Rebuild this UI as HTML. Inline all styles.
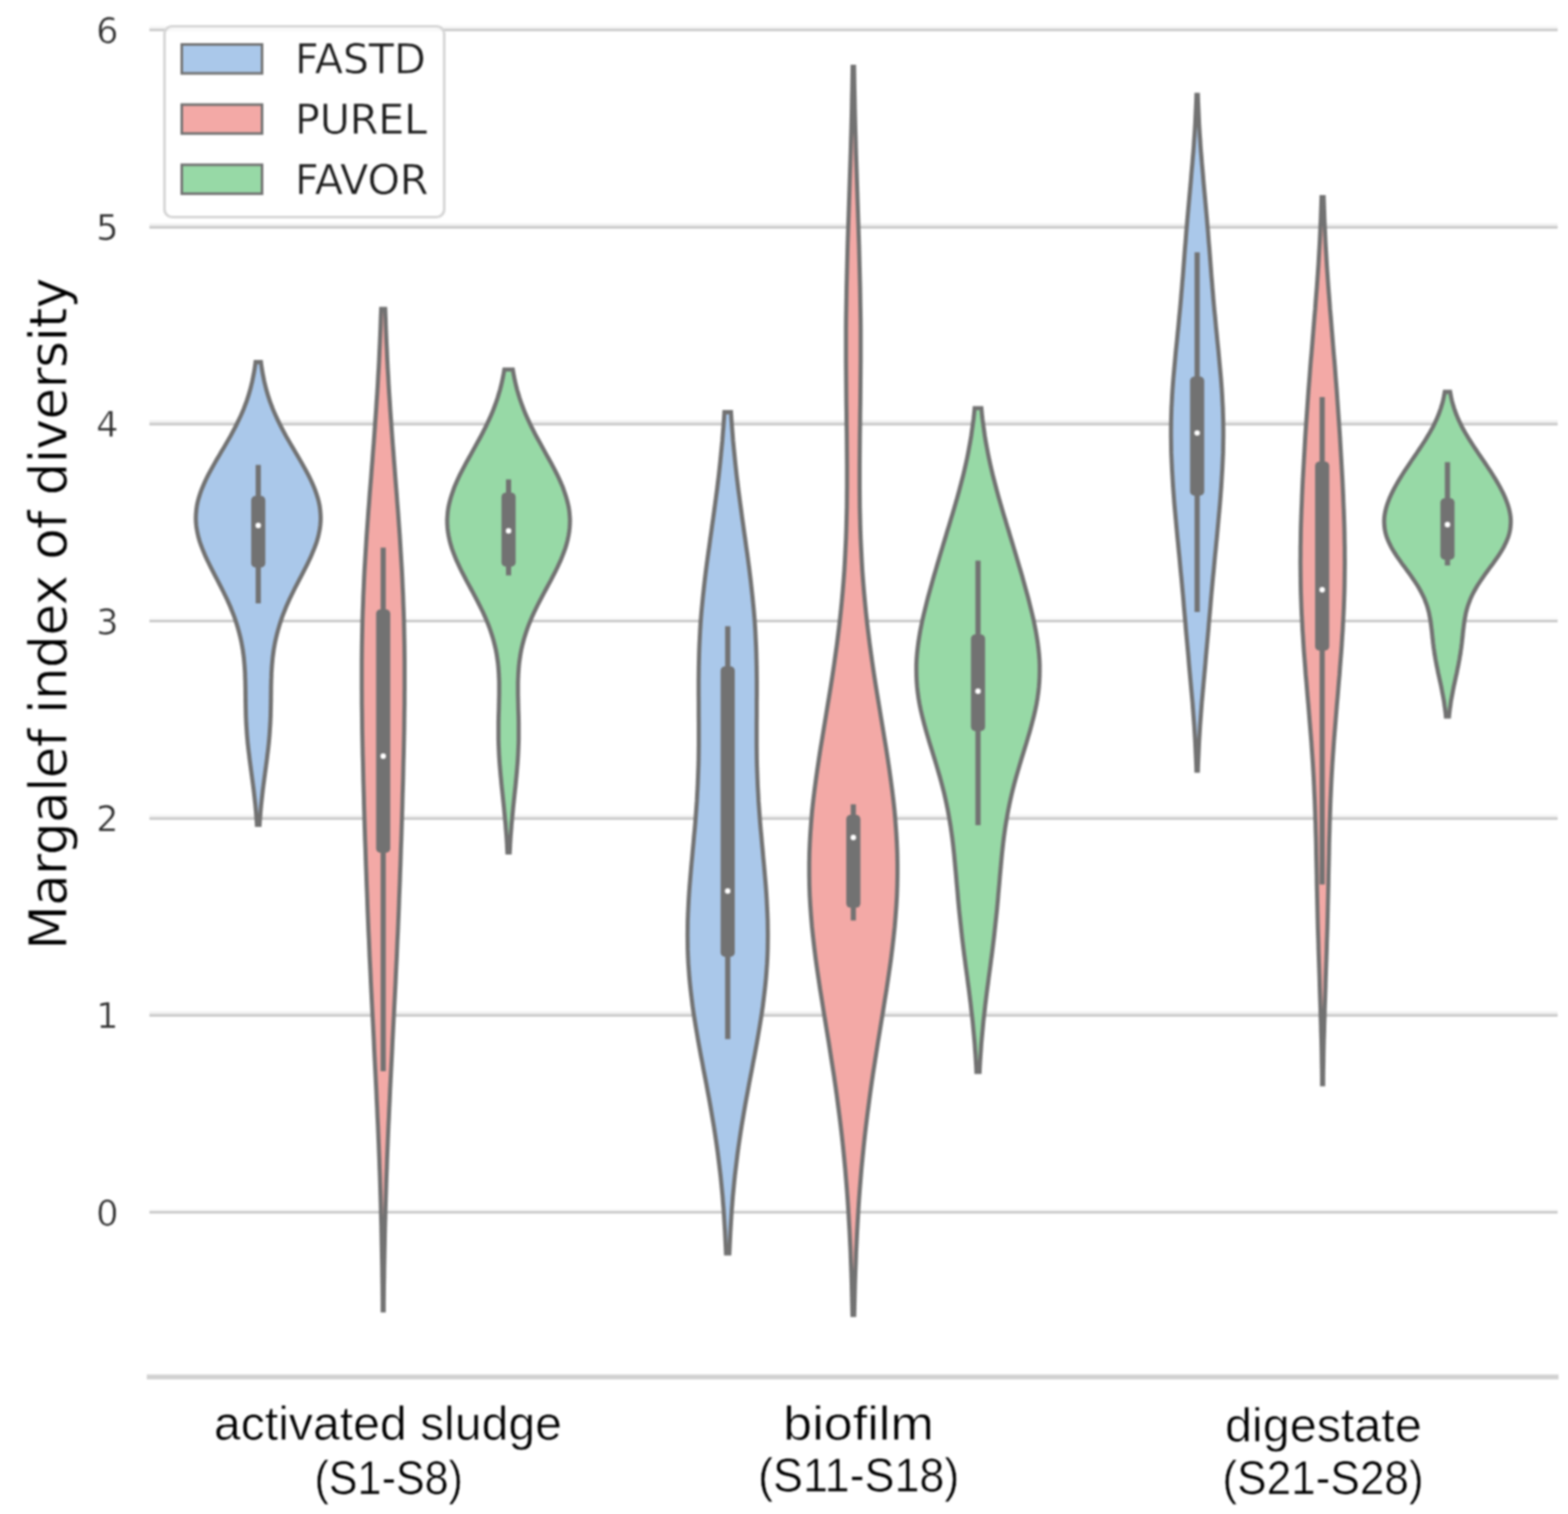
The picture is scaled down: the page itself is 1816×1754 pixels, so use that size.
<!DOCTYPE html>
<html lang="en"><head><meta charset="utf-8"><title>Margalef index of diversity</title>
<style>html,body{margin:0;padding:0;background:#fff}body{width:1816px;height:1754px;overflow:hidden}svg{display:block;filter:blur(0.9px)}text{stroke:#fff;stroke-width:0.7px;paint-order:fill stroke}.tk{font-family:"DejaVu Sans","Liberation Sans",sans-serif;font-size:41px;fill:#2c2c2c}.lg{font-family:"DejaVu Sans","Liberation Sans",sans-serif;font-size:48px;letter-spacing:-0.3px;fill:#1c1c1c}.yl{font-family:"DejaVu Sans","Liberation Sans",sans-serif;font-size:60px;letter-spacing:-0.8px;fill:#000}.xl{font-family:"Liberation Sans","DejaVu Sans",sans-serif;font-size:56px;fill:#000}</style></head><body>
<svg width="1816" height="1754" viewBox="0 0 1816 1754">
<rect width="1816" height="1754" fill="#fff"/>
<g>
<rect x="173" y="1399.8" width="1631" height="3.3" fill="#000" fill-opacity="0.015"/>
<rect x="173" y="1402.9" width="1631" height="3" fill="#cacaca"/>
<rect x="173" y="1171.8" width="1631" height="3.3" fill="#000" fill-opacity="0.060"/>
<rect x="173" y="1174.9" width="1631" height="3" fill="#cacaca"/>
<rect x="173" y="943.7" width="1631" height="3.3" fill="#000" fill-opacity="0.042"/>
<rect x="173" y="946.8" width="1631" height="3" fill="#cacaca"/>
<rect x="173" y="714.9" width="1631" height="3.3" fill="#000" fill-opacity="0.015"/>
<rect x="173" y="718.0" width="1631" height="3" fill="#cacaca"/>
<rect x="173" y="486.8" width="1631" height="3.3" fill="#000" fill-opacity="0.060"/>
<rect x="173" y="489.9" width="1631" height="3" fill="#cacaca"/>
<rect x="173" y="258.8" width="1631" height="3.3" fill="#000" fill-opacity="0.060"/>
<rect x="173" y="261.9" width="1631" height="3" fill="#cacaca"/>
<rect x="173" y="30.1" width="1631" height="3.3" fill="#000" fill-opacity="0.036"/>
<rect x="173" y="33.2" width="1631" height="3" fill="#cacaca"/>
</g>
<rect x="170" y="1592.4" width="1635" height="5.7" fill="#d2d2d2"/>
<g class="tk" text-anchor="end">
<text x="137.3" y="1419.6">0</text>
<text x="137.3" y="1191.2">1</text>
<text x="137.3" y="962.9">2</text>
<text x="137.3" y="734.5">3</text>
<text x="137.3" y="506.2">4</text>
<text x="137.3" y="277.8">5</text>
<text x="137.3" y="49.5">6</text>
</g>
<g stroke="#727272" stroke-width="4.8" stroke-linejoin="miter">
<path d="M296.0 419.5 L295.4 424.0 L294.7 428.5 L293.9 433.0 L293.0 437.5 L292.1 442.0 L291.0 446.5 L289.9 451.0 L288.6 455.5 L287.2 460.0 L285.7 464.6 L284.0 469.1 L282.3 473.6 L280.4 478.1 L278.4 482.6 L276.3 487.1 L274.1 491.6 L271.8 496.1 L269.4 500.6 L267.0 505.1 L264.4 509.6 L261.8 514.1 L259.2 518.6 L256.5 523.1 L253.9 527.6 L251.2 532.1 L248.6 536.6 L246.1 541.1 L243.6 545.6 L241.2 550.1 L238.9 554.7 L236.8 559.2 L234.9 563.7 L233.1 568.2 L231.5 572.7 L230.1 577.2 L228.9 581.7 L228.0 586.2 L227.4 590.7 L227.0 595.2 L226.8 599.7 L226.9 604.2 L227.3 608.7 L227.9 613.2 L228.8 617.7 L229.8 622.2 L231.1 626.7 L232.6 631.2 L234.3 635.7 L236.2 640.2 L238.1 644.8 L240.2 649.3 L242.4 653.8 L244.7 658.3 L247.0 662.8 L249.3 667.3 L251.7 671.8 L254.0 676.3 L256.3 680.8 L258.5 685.3 L260.7 689.8 L262.9 694.3 L264.9 698.8 L266.9 703.3 L268.7 707.8 L270.5 712.3 L272.1 716.8 L273.6 721.3 L275.0 725.8 L276.3 730.3 L277.5 734.9 L278.6 739.4 L279.6 743.9 L280.4 748.4 L281.2 752.9 L281.8 757.4 L282.4 761.9 L282.8 766.4 L283.2 770.9 L283.5 775.4 L283.8 779.9 L283.9 784.4 L284.1 788.9 L284.2 793.4 L284.3 797.9 L284.3 802.4 L284.4 806.9 L284.4 811.4 L284.5 815.9 L284.6 820.4 L284.7 825.0 L284.8 829.5 L285.0 834.0 L285.2 838.5 L285.5 843.0 L285.8 847.5 L286.1 852.0 L286.5 856.5 L286.9 861.0 L287.4 865.5 L287.9 870.0 L288.5 874.5 L289.0 879.0 L289.6 883.5 L290.2 888.0 L290.8 892.5 L291.4 897.0 L292.0 901.5 L292.6 906.0 L293.2 910.5 L293.8 915.1 L294.3 919.6 L294.8 924.1 L295.3 928.6 L295.8 933.1 L296.2 937.6 L296.6 942.1 L296.9 946.6 L297.3 951.1 L297.6 955.6 L300.6 955.6 L300.9 951.1 L301.3 946.6 L301.6 942.1 L302.0 937.6 L302.4 933.1 L302.9 928.6 L303.4 924.1 L303.9 919.6 L304.4 915.1 L305.0 910.5 L305.6 906.0 L306.2 901.5 L306.8 897.0 L307.4 892.5 L308.0 888.0 L308.6 883.5 L309.2 879.0 L309.7 874.5 L310.3 870.0 L310.8 865.5 L311.3 861.0 L311.7 856.5 L312.1 852.0 L312.4 847.5 L312.7 843.0 L313.0 838.5 L313.2 834.0 L313.4 829.5 L313.5 825.0 L313.6 820.4 L313.7 815.9 L313.8 811.4 L313.8 806.9 L313.9 802.4 L313.9 797.9 L314.0 793.4 L314.1 788.9 L314.3 784.4 L314.4 779.9 L314.7 775.4 L315.0 770.9 L315.4 766.4 L315.8 761.9 L316.4 757.4 L317.0 752.9 L317.8 748.4 L318.6 743.9 L319.6 739.4 L320.7 734.9 L321.9 730.3 L323.2 725.8 L324.6 721.3 L326.1 716.8 L327.7 712.3 L329.5 707.8 L331.3 703.3 L333.3 698.8 L335.3 694.3 L337.5 689.8 L339.7 685.3 L341.9 680.8 L344.2 676.3 L346.5 671.8 L348.9 667.3 L351.2 662.8 L353.5 658.3 L355.8 653.8 L358.0 649.3 L360.1 644.8 L362.0 640.2 L363.9 635.7 L365.6 631.2 L367.1 626.7 L368.4 622.2 L369.4 617.7 L370.3 613.2 L370.9 608.7 L371.3 604.2 L371.4 599.7 L371.2 595.2 L370.8 590.7 L370.2 586.2 L369.3 581.7 L368.1 577.2 L366.7 572.7 L365.1 568.2 L363.3 563.7 L361.4 559.2 L359.3 554.7 L357.0 550.1 L354.6 545.6 L352.1 541.1 L349.6 536.6 L347.0 532.1 L344.3 527.6 L341.7 523.1 L339.0 518.6 L336.4 514.1 L333.8 509.6 L331.2 505.1 L328.8 500.6 L326.4 496.1 L324.1 491.6 L321.9 487.1 L319.8 482.6 L317.8 478.1 L315.9 473.6 L314.2 469.1 L312.5 464.6 L311.0 460.0 L309.6 455.5 L308.3 451.0 L307.2 446.5 L306.1 442.0 L305.2 437.5 L304.3 433.0 L303.5 428.5 L302.8 424.0 L302.2 419.5 Z" fill="#aac8ea"/>
<path d="M441.5 357.8 L441.1 367.6 L440.8 377.3 L440.4 387.1 L440.0 396.8 L439.5 406.6 L439.1 416.3 L438.6 426.1 L438.0 435.8 L437.5 445.6 L436.9 455.3 L436.2 465.1 L435.6 474.8 L434.9 484.6 L434.2 494.3 L433.5 504.1 L432.8 513.8 L432.0 523.6 L431.3 533.3 L430.5 543.1 L429.8 552.8 L429.0 562.6 L428.2 572.3 L427.5 582.1 L426.7 591.8 L426.0 601.6 L425.3 611.3 L424.6 621.1 L424.0 630.8 L423.4 640.6 L422.8 650.3 L422.2 660.1 L421.7 669.8 L421.3 679.6 L420.8 689.3 L420.5 699.1 L420.1 708.8 L419.8 718.6 L419.6 728.3 L419.4 738.1 L419.2 747.8 L419.1 757.6 L419.0 767.3 L419.0 777.1 L419.0 786.8 L419.0 796.6 L419.1 806.3 L419.1 816.1 L419.3 825.8 L419.4 835.6 L419.5 845.3 L419.7 855.1 L419.9 864.8 L420.1 874.6 L420.4 884.3 L420.6 894.1 L420.8 903.8 L421.1 913.6 L421.4 923.3 L421.6 933.1 L421.9 942.8 L422.2 952.6 L422.5 962.3 L422.8 972.1 L423.2 981.8 L423.5 991.6 L423.8 1001.3 L424.2 1011.1 L424.5 1020.8 L424.9 1030.6 L425.3 1040.3 L425.6 1050.1 L426.0 1059.8 L426.4 1069.6 L426.8 1079.3 L427.3 1089.1 L427.7 1098.8 L428.1 1108.6 L428.6 1118.3 L429.1 1128.1 L429.5 1137.8 L430.0 1147.6 L430.5 1157.3 L431.0 1167.1 L431.5 1176.8 L432.0 1186.6 L432.5 1196.3 L433.0 1206.1 L433.4 1215.8 L433.9 1225.6 L434.4 1235.3 L434.9 1245.1 L435.4 1254.8 L435.9 1264.6 L436.3 1274.3 L436.8 1284.1 L437.2 1293.8 L437.7 1303.6 L438.1 1313.3 L438.5 1323.1 L438.9 1332.8 L439.3 1342.6 L439.6 1352.3 L440.0 1362.1 L440.3 1371.8 L440.6 1381.6 L440.9 1391.3 L441.2 1401.1 L441.4 1410.8 L441.7 1420.6 L441.9 1430.3 L442.1 1440.1 L442.3 1449.8 L442.5 1459.6 L442.7 1469.3 L442.8 1479.1 L443.0 1488.8 L443.1 1498.6 L443.2 1508.3 L443.2 1518.1 L444.4 1518.1 L444.4 1508.3 L444.5 1498.6 L444.6 1488.8 L444.8 1479.1 L444.9 1469.3 L445.1 1459.6 L445.3 1449.8 L445.5 1440.1 L445.7 1430.3 L445.9 1420.6 L446.2 1410.8 L446.4 1401.1 L446.7 1391.3 L447.0 1381.6 L447.3 1371.8 L447.6 1362.1 L448.0 1352.3 L448.3 1342.6 L448.7 1332.8 L449.1 1323.1 L449.5 1313.3 L449.9 1303.6 L450.4 1293.8 L450.8 1284.1 L451.3 1274.3 L451.7 1264.6 L452.2 1254.8 L452.7 1245.1 L453.2 1235.3 L453.7 1225.6 L454.2 1215.8 L454.6 1206.1 L455.1 1196.3 L455.6 1186.6 L456.1 1176.8 L456.6 1167.1 L457.1 1157.3 L457.6 1147.6 L458.1 1137.8 L458.5 1128.1 L459.0 1118.3 L459.5 1108.6 L459.9 1098.8 L460.3 1089.1 L460.8 1079.3 L461.2 1069.6 L461.6 1059.8 L462.0 1050.1 L462.3 1040.3 L462.7 1030.6 L463.1 1020.8 L463.4 1011.1 L463.8 1001.3 L464.1 991.6 L464.4 981.8 L464.8 972.1 L465.1 962.3 L465.4 952.6 L465.7 942.8 L466.0 933.1 L466.2 923.3 L466.5 913.6 L466.8 903.8 L467.0 894.1 L467.2 884.3 L467.5 874.6 L467.7 864.8 L467.9 855.1 L468.1 845.3 L468.2 835.6 L468.3 825.8 L468.5 816.1 L468.5 806.3 L468.6 796.6 L468.6 786.8 L468.6 777.1 L468.6 767.3 L468.5 757.6 L468.4 747.8 L468.2 738.1 L468.0 728.3 L467.8 718.6 L467.5 708.8 L467.1 699.1 L466.8 689.3 L466.3 679.6 L465.9 669.8 L465.4 660.1 L464.8 650.3 L464.2 640.6 L463.6 630.8 L463.0 621.1 L462.3 611.3 L461.6 601.6 L460.9 591.8 L460.1 582.1 L459.4 572.3 L458.6 562.6 L457.8 552.8 L457.1 543.1 L456.3 533.3 L455.6 523.6 L454.8 513.8 L454.1 504.1 L453.4 494.3 L452.7 484.6 L452.0 474.8 L451.4 465.1 L450.7 455.3 L450.1 445.6 L449.6 435.8 L449.0 426.1 L448.5 416.3 L448.1 406.6 L447.6 396.8 L447.2 387.1 L446.8 377.3 L446.5 367.6 L446.1 357.8 Z" fill="#f3a9a6"/>
<path d="M584.1 428.1 L583.3 432.8 L582.4 437.5 L581.4 442.2 L580.3 446.9 L579.1 451.6 L577.7 456.3 L576.3 461.0 L574.7 465.7 L573.0 470.4 L571.2 475.1 L569.3 479.8 L567.2 484.5 L565.0 489.2 L562.8 493.9 L560.4 498.6 L558.0 503.3 L555.5 508.0 L552.9 512.7 L550.3 517.4 L547.7 522.1 L545.1 526.8 L542.5 531.5 L539.9 536.2 L537.4 540.9 L534.9 545.6 L532.5 550.3 L530.3 555.0 L528.2 559.7 L526.2 564.4 L524.5 569.2 L522.9 573.9 L521.5 578.6 L520.3 583.3 L519.3 588.0 L518.6 592.7 L518.2 597.4 L517.9 602.1 L518.0 606.8 L518.3 611.5 L518.8 616.2 L519.6 620.9 L520.6 625.6 L521.8 630.3 L523.2 635.0 L524.9 639.7 L526.7 644.4 L528.6 649.1 L530.8 653.8 L533.0 658.5 L535.3 663.2 L537.8 667.9 L540.2 672.6 L542.8 677.3 L545.3 682.0 L547.8 686.7 L550.3 691.4 L552.8 696.1 L555.2 700.8 L557.5 705.5 L559.8 710.2 L561.9 714.9 L563.9 719.6 L565.8 724.3 L567.5 729.0 L569.1 733.7 L570.6 738.4 L571.9 743.1 L573.1 747.8 L574.2 752.5 L575.1 757.2 L575.8 761.9 L576.5 766.6 L577.0 771.3 L577.4 776.0 L577.7 780.7 L577.9 785.4 L578.1 790.1 L578.1 794.8 L578.1 799.5 L578.1 804.2 L578.0 808.9 L577.9 813.6 L577.8 818.3 L577.7 823.0 L577.5 827.7 L577.4 832.4 L577.3 837.1 L577.3 841.8 L577.3 846.5 L577.3 851.3 L577.3 856.0 L577.4 860.7 L577.6 865.4 L577.8 870.1 L578.0 874.8 L578.3 879.5 L578.6 884.2 L579.0 888.9 L579.4 893.6 L579.8 898.3 L580.3 903.0 L580.7 907.7 L581.2 912.4 L581.7 917.1 L582.2 921.8 L582.7 926.5 L583.2 931.2 L583.7 935.9 L584.1 940.6 L584.6 945.3 L585.0 950.0 L585.5 954.7 L585.8 959.4 L586.2 964.1 L586.6 968.8 L586.9 973.5 L587.2 978.2 L587.4 982.9 L587.7 987.6 L590.3 987.6 L590.6 982.9 L590.8 978.2 L591.1 973.5 L591.4 968.8 L591.8 964.1 L592.2 959.4 L592.5 954.7 L593.0 950.0 L593.4 945.3 L593.9 940.6 L594.3 935.9 L594.8 931.2 L595.3 926.5 L595.8 921.8 L596.3 917.1 L596.8 912.4 L597.3 907.7 L597.7 903.0 L598.2 898.3 L598.6 893.6 L599.0 888.9 L599.4 884.2 L599.7 879.5 L600.0 874.8 L600.2 870.1 L600.4 865.4 L600.6 860.7 L600.7 856.0 L600.7 851.3 L600.7 846.5 L600.7 841.8 L600.7 837.1 L600.6 832.4 L600.5 827.7 L600.3 823.0 L600.2 818.3 L600.1 813.6 L600.0 808.9 L599.9 804.2 L599.9 799.5 L599.9 794.8 L599.9 790.1 L600.1 785.4 L600.3 780.7 L600.6 776.0 L601.0 771.3 L601.5 766.6 L602.2 761.9 L602.9 757.2 L603.8 752.5 L604.9 747.8 L606.1 743.1 L607.4 738.4 L608.9 733.7 L610.5 729.0 L612.2 724.3 L614.1 719.6 L616.1 714.9 L618.2 710.2 L620.5 705.5 L622.8 700.8 L625.2 696.1 L627.7 691.4 L630.2 686.7 L632.7 682.0 L635.2 677.3 L637.8 672.6 L640.2 667.9 L642.7 663.2 L645.0 658.5 L647.2 653.8 L649.4 649.1 L651.3 644.4 L653.1 639.7 L654.8 635.0 L656.2 630.3 L657.4 625.6 L658.4 620.9 L659.2 616.2 L659.7 611.5 L660.0 606.8 L660.1 602.1 L659.8 597.4 L659.4 592.7 L658.7 588.0 L657.7 583.3 L656.5 578.6 L655.1 573.9 L653.5 569.2 L651.8 564.4 L649.8 559.7 L647.7 555.0 L645.5 550.3 L643.1 545.6 L640.6 540.9 L638.1 536.2 L635.5 531.5 L632.9 526.8 L630.3 522.1 L627.7 517.4 L625.1 512.7 L622.5 508.0 L620.0 503.3 L617.6 498.6 L615.2 493.9 L613.0 489.2 L610.8 484.5 L608.7 479.8 L606.8 475.1 L605.0 470.4 L603.3 465.7 L601.7 461.0 L600.3 456.3 L598.9 451.6 L597.7 446.9 L596.6 442.2 L595.6 437.5 L594.7 432.8 L593.9 428.1 Z" fill="#97d9a6"/>
<path d="M839.0 477.5 L838.5 485.7 L837.9 493.9 L837.2 502.1 L836.6 510.3 L835.8 518.4 L835.0 526.6 L834.2 534.8 L833.3 543.0 L832.4 551.2 L831.4 559.4 L830.4 567.6 L829.3 575.8 L828.2 584.0 L827.1 592.1 L826.0 600.3 L824.8 608.5 L823.7 616.7 L822.5 624.9 L821.4 633.1 L820.2 641.3 L819.1 649.5 L818.0 657.7 L817.0 665.8 L816.0 674.0 L815.1 682.2 L814.2 690.4 L813.4 698.6 L812.6 706.8 L811.9 715.0 L811.3 723.2 L810.8 731.4 L810.4 739.6 L810.0 747.7 L809.7 755.9 L809.5 764.1 L809.3 772.3 L809.2 780.5 L809.1 788.7 L809.1 796.9 L809.1 805.1 L809.2 813.3 L809.2 821.4 L809.2 829.6 L809.3 837.8 L809.3 846.0 L809.3 854.2 L809.3 862.4 L809.2 870.6 L809.1 878.8 L808.9 887.0 L808.6 895.1 L808.3 903.3 L808.0 911.5 L807.5 919.7 L807.1 927.9 L806.5 936.1 L805.9 944.3 L805.3 952.5 L804.6 960.7 L803.8 968.8 L803.1 977.0 L802.3 985.2 L801.6 993.4 L800.8 1001.6 L800.1 1009.8 L799.4 1018.0 L798.7 1026.2 L798.1 1034.4 L797.6 1042.5 L797.2 1050.7 L796.8 1058.9 L796.5 1067.1 L796.4 1075.3 L796.3 1083.5 L796.4 1091.7 L796.5 1099.9 L796.8 1108.1 L797.2 1116.2 L797.8 1124.4 L798.4 1132.6 L799.2 1140.8 L800.1 1149.0 L801.1 1157.2 L802.1 1165.4 L803.3 1173.6 L804.6 1181.8 L805.9 1189.9 L807.3 1198.1 L808.7 1206.3 L810.2 1214.5 L811.7 1222.7 L813.3 1230.9 L814.8 1239.1 L816.4 1247.3 L818.0 1255.5 L819.5 1263.7 L821.0 1271.8 L822.5 1280.0 L823.9 1288.2 L825.3 1296.4 L826.7 1304.6 L828.0 1312.8 L829.2 1321.0 L830.4 1329.2 L831.5 1337.4 L832.5 1345.5 L833.5 1353.7 L834.5 1361.9 L835.3 1370.1 L836.1 1378.3 L836.9 1386.5 L837.5 1394.7 L838.2 1402.9 L838.7 1411.1 L839.2 1419.2 L839.7 1427.4 L840.1 1435.6 L840.5 1443.8 L840.9 1452.0 L844.7 1452.0 L845.1 1443.8 L845.5 1435.6 L845.9 1427.4 L846.4 1419.2 L846.9 1411.1 L847.4 1402.9 L848.1 1394.7 L848.7 1386.5 L849.5 1378.3 L850.3 1370.1 L851.1 1361.9 L852.1 1353.7 L853.1 1345.5 L854.1 1337.4 L855.2 1329.2 L856.4 1321.0 L857.6 1312.8 L858.9 1304.6 L860.3 1296.4 L861.7 1288.2 L863.1 1280.0 L864.6 1271.8 L866.1 1263.7 L867.6 1255.5 L869.2 1247.3 L870.8 1239.1 L872.3 1230.9 L873.9 1222.7 L875.4 1214.5 L876.9 1206.3 L878.3 1198.1 L879.7 1189.9 L881.0 1181.8 L882.3 1173.6 L883.5 1165.4 L884.5 1157.2 L885.5 1149.0 L886.4 1140.8 L887.2 1132.6 L887.8 1124.4 L888.4 1116.2 L888.8 1108.1 L889.1 1099.9 L889.2 1091.7 L889.3 1083.5 L889.2 1075.3 L889.1 1067.1 L888.8 1058.9 L888.4 1050.7 L888.0 1042.5 L887.5 1034.4 L886.9 1026.2 L886.2 1018.0 L885.5 1009.8 L884.8 1001.6 L884.0 993.4 L883.3 985.2 L882.5 977.0 L881.8 968.8 L881.0 960.7 L880.3 952.5 L879.7 944.3 L879.1 936.1 L878.5 927.9 L878.1 919.7 L877.6 911.5 L877.3 903.3 L877.0 895.1 L876.7 887.0 L876.5 878.8 L876.4 870.6 L876.3 862.4 L876.3 854.2 L876.3 846.0 L876.3 837.8 L876.4 829.6 L876.4 821.4 L876.4 813.3 L876.5 805.1 L876.5 796.9 L876.5 788.7 L876.4 780.5 L876.3 772.3 L876.1 764.1 L875.9 755.9 L875.6 747.7 L875.2 739.6 L874.8 731.4 L874.3 723.2 L873.7 715.0 L873.0 706.8 L872.2 698.6 L871.4 690.4 L870.5 682.2 L869.6 674.0 L868.6 665.8 L867.6 657.7 L866.5 649.5 L865.4 641.3 L864.2 633.1 L863.1 624.9 L861.9 616.7 L860.8 608.5 L859.6 600.3 L858.5 592.1 L857.4 584.0 L856.3 575.8 L855.2 567.6 L854.2 559.4 L853.2 551.2 L852.3 543.0 L851.4 534.8 L850.6 526.6 L849.8 518.4 L849.0 510.3 L848.4 502.1 L847.7 493.9 L847.1 485.7 L846.6 477.5 Z" fill="#aac8ea"/>
<path d="M987.5 77.4 L987.3 89.6 L987.1 101.7 L986.8 113.9 L986.6 126.0 L986.3 138.2 L986.0 150.3 L985.6 162.5 L985.3 174.6 L984.9 186.8 L984.5 198.9 L984.1 211.1 L983.7 223.2 L983.3 235.4 L982.9 247.5 L982.5 259.7 L982.1 271.8 L981.7 284.0 L981.4 296.1 L981.1 308.3 L980.8 320.4 L980.5 332.6 L980.3 344.7 L980.1 356.9 L979.9 369.0 L979.8 381.2 L979.8 393.3 L979.8 405.5 L979.8 417.6 L979.9 429.8 L980.0 441.9 L980.1 454.1 L980.2 466.2 L980.4 478.4 L980.5 490.5 L980.7 502.7 L980.8 514.8 L980.9 527.0 L981.0 539.1 L981.0 551.3 L981.0 563.5 L980.9 575.6 L980.8 587.8 L980.5 599.9 L980.2 612.1 L979.8 624.2 L979.2 636.4 L978.6 648.5 L977.9 660.7 L977.0 672.8 L976.0 685.0 L974.9 697.1 L973.7 709.3 L972.4 721.4 L970.9 733.6 L969.4 745.7 L967.7 757.9 L966.0 770.0 L964.2 782.2 L962.3 794.3 L960.3 806.5 L958.3 818.6 L956.3 830.8 L954.3 842.9 L952.3 855.1 L950.3 867.2 L948.4 879.4 L946.6 891.5 L944.9 903.7 L943.3 915.8 L941.8 928.0 L940.5 940.1 L939.5 952.3 L938.6 964.4 L937.9 976.6 L937.4 988.7 L937.2 1000.9 L937.2 1013.0 L937.4 1025.2 L937.8 1037.3 L938.5 1049.5 L939.4 1061.7 L940.4 1073.8 L941.7 1086.0 L943.1 1098.1 L944.6 1110.3 L946.3 1122.4 L948.1 1134.6 L949.9 1146.7 L951.9 1158.9 L953.8 1171.0 L955.8 1183.2 L957.8 1195.3 L959.8 1207.5 L961.7 1219.6 L963.6 1231.8 L965.5 1243.9 L967.3 1256.1 L969.0 1268.2 L970.6 1280.4 L972.2 1292.5 L973.7 1304.7 L975.1 1316.8 L976.4 1329.0 L977.6 1341.1 L978.8 1353.3 L979.8 1365.4 L980.8 1377.6 L981.7 1389.7 L982.5 1401.9 L983.2 1414.0 L983.9 1426.2 L984.5 1438.3 L985.1 1450.5 L985.5 1462.6 L986.0 1474.8 L986.4 1486.9 L986.7 1499.1 L987.0 1511.2 L987.3 1523.4 L989.3 1523.4 L989.6 1511.2 L989.9 1499.1 L990.2 1486.9 L990.6 1474.8 L991.1 1462.6 L991.5 1450.5 L992.1 1438.3 L992.7 1426.2 L993.4 1414.0 L994.1 1401.9 L994.9 1389.7 L995.8 1377.6 L996.8 1365.4 L997.8 1353.3 L999.0 1341.1 L1000.2 1329.0 L1001.5 1316.8 L1002.9 1304.7 L1004.4 1292.5 L1006.0 1280.4 L1007.6 1268.2 L1009.3 1256.1 L1011.1 1243.9 L1013.0 1231.8 L1014.9 1219.6 L1016.8 1207.5 L1018.8 1195.3 L1020.8 1183.2 L1022.8 1171.0 L1024.7 1158.9 L1026.7 1146.7 L1028.5 1134.6 L1030.3 1122.4 L1032.0 1110.3 L1033.5 1098.1 L1034.9 1086.0 L1036.2 1073.8 L1037.2 1061.7 L1038.1 1049.5 L1038.8 1037.3 L1039.2 1025.2 L1039.4 1013.0 L1039.4 1000.9 L1039.2 988.7 L1038.7 976.6 L1038.0 964.4 L1037.1 952.3 L1036.1 940.1 L1034.8 928.0 L1033.3 915.8 L1031.7 903.7 L1030.0 891.5 L1028.2 879.4 L1026.3 867.2 L1024.3 855.1 L1022.3 842.9 L1020.3 830.8 L1018.3 818.6 L1016.3 806.5 L1014.3 794.3 L1012.4 782.2 L1010.6 770.0 L1008.9 757.9 L1007.2 745.7 L1005.7 733.6 L1004.2 721.4 L1002.9 709.3 L1001.7 697.1 L1000.6 685.0 L999.6 672.8 L998.7 660.7 L998.0 648.5 L997.4 636.4 L996.8 624.2 L996.4 612.1 L996.1 599.9 L995.8 587.8 L995.7 575.6 L995.6 563.5 L995.6 551.3 L995.6 539.1 L995.7 527.0 L995.8 514.8 L995.9 502.7 L996.1 490.5 L996.2 478.4 L996.4 466.2 L996.5 454.1 L996.6 441.9 L996.7 429.8 L996.8 417.6 L996.8 405.5 L996.8 393.3 L996.8 381.2 L996.7 369.0 L996.5 356.9 L996.3 344.7 L996.1 332.6 L995.8 320.4 L995.5 308.3 L995.2 296.1 L994.9 284.0 L994.5 271.8 L994.1 259.7 L993.7 247.5 L993.3 235.4 L992.9 223.2 L992.5 211.1 L992.1 198.9 L991.7 186.8 L991.3 174.6 L991.0 162.5 L990.6 150.3 L990.3 138.2 L990.0 126.0 L989.8 113.9 L989.5 101.7 L989.3 89.6 L989.1 77.4 Z" fill="#f3a9a6"/>
<path d="M1128.8 472.9 L1128.2 479.4 L1127.5 485.8 L1126.6 492.3 L1125.7 498.7 L1124.8 505.2 L1123.7 511.7 L1122.5 518.1 L1121.3 524.6 L1120.0 531.1 L1118.6 537.5 L1117.1 544.0 L1115.6 550.4 L1113.9 556.9 L1112.2 563.4 L1110.5 569.8 L1108.7 576.3 L1106.9 582.7 L1105.0 589.2 L1103.1 595.7 L1101.1 602.1 L1099.2 608.6 L1097.2 615.0 L1095.3 621.5 L1093.3 628.0 L1091.4 634.4 L1089.4 640.9 L1087.5 647.4 L1085.6 653.8 L1083.7 660.3 L1081.8 666.7 L1080.0 673.2 L1078.2 679.7 L1076.4 686.1 L1074.6 692.6 L1073.0 699.0 L1071.4 705.5 L1069.8 712.0 L1068.3 718.4 L1067.0 724.9 L1065.7 731.4 L1064.6 737.8 L1063.6 744.3 L1062.8 750.7 L1062.1 757.2 L1061.6 763.7 L1061.3 770.1 L1061.3 776.6 L1061.4 783.0 L1061.7 789.5 L1062.2 796.0 L1062.9 802.4 L1063.8 808.9 L1064.9 815.4 L1066.2 821.8 L1067.7 828.3 L1069.3 834.7 L1071.0 841.2 L1072.8 847.7 L1074.7 854.1 L1076.6 860.6 L1078.6 867.0 L1080.6 873.5 L1082.6 880.0 L1084.5 886.4 L1086.4 892.9 L1088.3 899.3 L1090.1 905.8 L1091.8 912.3 L1093.4 918.7 L1094.9 925.2 L1096.3 931.7 L1097.6 938.1 L1098.8 944.6 L1099.9 951.0 L1101.0 957.5 L1101.9 964.0 L1102.8 970.4 L1103.6 976.9 L1104.3 983.3 L1105.0 989.8 L1105.6 996.3 L1106.2 1002.7 L1106.8 1009.2 L1107.4 1015.7 L1107.9 1022.1 L1108.5 1028.6 L1109.1 1035.0 L1109.6 1041.5 L1110.2 1048.0 L1110.8 1054.4 L1111.5 1060.9 L1112.2 1067.3 L1112.9 1073.8 L1113.6 1080.3 L1114.3 1086.7 L1115.1 1093.2 L1115.9 1099.7 L1116.7 1106.1 L1117.6 1112.6 L1118.4 1119.0 L1119.3 1125.5 L1120.2 1132.0 L1121.0 1138.4 L1121.9 1144.9 L1122.7 1151.3 L1123.5 1157.8 L1124.3 1164.3 L1125.0 1170.7 L1125.8 1177.2 L1126.5 1183.6 L1127.1 1190.1 L1127.7 1196.6 L1128.3 1203.0 L1128.9 1209.5 L1129.3 1216.0 L1129.8 1222.4 L1130.2 1228.9 L1130.6 1235.3 L1130.9 1241.8 L1134.5 1241.8 L1134.8 1235.3 L1135.2 1228.9 L1135.6 1222.4 L1136.1 1216.0 L1136.5 1209.5 L1137.1 1203.0 L1137.7 1196.6 L1138.3 1190.1 L1138.9 1183.6 L1139.6 1177.2 L1140.4 1170.7 L1141.1 1164.3 L1141.9 1157.8 L1142.7 1151.3 L1143.5 1144.9 L1144.4 1138.4 L1145.2 1132.0 L1146.1 1125.5 L1147.0 1119.0 L1147.8 1112.6 L1148.7 1106.1 L1149.5 1099.7 L1150.3 1093.2 L1151.1 1086.7 L1151.8 1080.3 L1152.5 1073.8 L1153.2 1067.3 L1153.9 1060.9 L1154.6 1054.4 L1155.2 1048.0 L1155.8 1041.5 L1156.3 1035.0 L1156.9 1028.6 L1157.5 1022.1 L1158.0 1015.7 L1158.6 1009.2 L1159.2 1002.7 L1159.8 996.3 L1160.4 989.8 L1161.1 983.3 L1161.8 976.9 L1162.6 970.4 L1163.5 964.0 L1164.4 957.5 L1165.5 951.0 L1166.6 944.6 L1167.8 938.1 L1169.1 931.7 L1170.5 925.2 L1172.0 918.7 L1173.6 912.3 L1175.3 905.8 L1177.1 899.3 L1179.0 892.9 L1180.9 886.4 L1182.8 880.0 L1184.8 873.5 L1186.8 867.0 L1188.8 860.6 L1190.7 854.1 L1192.6 847.7 L1194.4 841.2 L1196.1 834.7 L1197.7 828.3 L1199.2 821.8 L1200.5 815.4 L1201.6 808.9 L1202.5 802.4 L1203.2 796.0 L1203.7 789.5 L1204.0 783.0 L1204.1 776.6 L1204.1 770.1 L1203.8 763.7 L1203.3 757.2 L1202.6 750.7 L1201.8 744.3 L1200.8 737.8 L1199.7 731.4 L1198.4 724.9 L1197.1 718.4 L1195.6 712.0 L1194.0 705.5 L1192.4 699.0 L1190.8 692.6 L1189.0 686.1 L1187.2 679.7 L1185.4 673.2 L1183.6 666.7 L1181.7 660.3 L1179.8 653.8 L1177.9 647.4 L1176.0 640.9 L1174.0 634.4 L1172.1 628.0 L1170.1 621.5 L1168.2 615.0 L1166.2 608.6 L1164.3 602.1 L1162.3 595.7 L1160.4 589.2 L1158.5 582.7 L1156.7 576.3 L1154.9 569.8 L1153.2 563.4 L1151.5 556.9 L1149.8 550.4 L1148.3 544.0 L1146.8 537.5 L1145.4 531.1 L1144.1 524.6 L1142.9 518.1 L1141.7 511.7 L1140.6 505.2 L1139.7 498.7 L1138.8 492.3 L1137.9 485.8 L1137.2 479.4 L1136.6 472.9 Z" fill="#97d9a6"/>
<path d="M1385.7 109.9 L1385.5 116.5 L1385.2 123.1 L1384.9 129.6 L1384.6 136.2 L1384.3 142.8 L1383.9 149.4 L1383.5 156.0 L1383.0 162.5 L1382.6 169.1 L1382.1 175.7 L1381.5 182.3 L1381.0 188.9 L1380.4 195.4 L1379.8 202.0 L1379.3 208.6 L1378.7 215.2 L1378.1 221.8 L1377.5 228.3 L1376.9 234.9 L1376.3 241.5 L1375.7 248.1 L1375.1 254.7 L1374.6 261.2 L1374.0 267.8 L1373.5 274.4 L1373.0 281.0 L1372.4 287.6 L1371.9 294.1 L1371.4 300.7 L1370.9 307.3 L1370.4 313.9 L1369.9 320.5 L1369.3 327.0 L1368.8 333.6 L1368.2 340.2 L1367.7 346.8 L1367.1 353.4 L1366.5 359.9 L1365.8 366.5 L1365.2 373.1 L1364.6 379.7 L1363.9 386.3 L1363.3 392.8 L1362.6 399.4 L1361.9 406.0 L1361.3 412.6 L1360.7 419.2 L1360.1 425.7 L1359.5 432.3 L1358.9 438.9 L1358.4 445.5 L1357.9 452.1 L1357.5 458.6 L1357.2 465.2 L1356.8 471.8 L1356.6 478.4 L1356.4 485.0 L1356.3 491.5 L1356.2 498.1 L1356.2 504.7 L1356.3 511.3 L1356.4 517.8 L1356.5 524.4 L1356.8 531.0 L1357.1 537.6 L1357.4 544.2 L1357.8 550.7 L1358.2 557.3 L1358.6 563.9 L1359.1 570.5 L1359.6 577.1 L1360.1 583.6 L1360.7 590.2 L1361.3 596.8 L1361.9 603.4 L1362.5 610.0 L1363.1 616.5 L1363.7 623.1 L1364.4 629.7 L1365.0 636.3 L1365.7 642.9 L1366.3 649.4 L1366.9 656.0 L1367.5 662.6 L1368.2 669.2 L1368.8 675.8 L1369.4 682.3 L1370.0 688.9 L1370.6 695.5 L1371.1 702.1 L1371.7 708.7 L1372.3 715.2 L1372.9 721.8 L1373.4 728.4 L1374.0 735.0 L1374.6 741.6 L1375.2 748.1 L1375.8 754.7 L1376.4 761.3 L1376.9 767.9 L1377.5 774.5 L1378.1 781.0 L1378.7 787.6 L1379.3 794.2 L1379.9 800.8 L1380.5 807.4 L1381.1 813.9 L1381.6 820.5 L1382.1 827.1 L1382.6 833.7 L1383.1 840.3 L1383.5 846.8 L1383.9 853.4 L1384.3 860.0 L1384.6 866.6 L1384.9 873.2 L1385.2 879.7 L1385.5 886.3 L1385.7 892.9 L1387.3 892.9 L1387.5 886.3 L1387.8 879.7 L1388.1 873.2 L1388.4 866.6 L1388.7 860.0 L1389.1 853.4 L1389.5 846.8 L1389.9 840.3 L1390.4 833.7 L1390.9 827.1 L1391.4 820.5 L1391.9 813.9 L1392.5 807.4 L1393.1 800.8 L1393.7 794.2 L1394.3 787.6 L1394.9 781.0 L1395.5 774.5 L1396.1 767.9 L1396.6 761.3 L1397.2 754.7 L1397.8 748.1 L1398.4 741.6 L1399.0 735.0 L1399.6 728.4 L1400.1 721.8 L1400.7 715.2 L1401.3 708.7 L1401.9 702.1 L1402.4 695.5 L1403.0 688.9 L1403.6 682.3 L1404.2 675.8 L1404.8 669.2 L1405.5 662.6 L1406.1 656.0 L1406.7 649.4 L1407.3 642.9 L1408.0 636.3 L1408.6 629.7 L1409.3 623.1 L1409.9 616.5 L1410.5 610.0 L1411.1 603.4 L1411.7 596.8 L1412.3 590.2 L1412.9 583.6 L1413.4 577.1 L1413.9 570.5 L1414.4 563.9 L1414.8 557.3 L1415.2 550.7 L1415.6 544.2 L1415.9 537.6 L1416.2 531.0 L1416.5 524.4 L1416.6 517.8 L1416.7 511.3 L1416.8 504.7 L1416.8 498.1 L1416.7 491.5 L1416.6 485.0 L1416.4 478.4 L1416.2 471.8 L1415.8 465.2 L1415.5 458.6 L1415.1 452.1 L1414.6 445.5 L1414.1 438.9 L1413.5 432.3 L1412.9 425.7 L1412.3 419.2 L1411.7 412.6 L1411.1 406.0 L1410.4 399.4 L1409.7 392.8 L1409.1 386.3 L1408.4 379.7 L1407.8 373.1 L1407.2 366.5 L1406.5 359.9 L1405.9 353.4 L1405.3 346.8 L1404.8 340.2 L1404.2 333.6 L1403.7 327.0 L1403.1 320.5 L1402.6 313.9 L1402.1 307.3 L1401.6 300.7 L1401.1 294.1 L1400.6 287.6 L1400.0 281.0 L1399.5 274.4 L1399.0 267.8 L1398.4 261.2 L1397.9 254.7 L1397.3 248.1 L1396.7 241.5 L1396.1 234.9 L1395.5 228.3 L1394.9 221.8 L1394.3 215.2 L1393.7 208.6 L1393.2 202.0 L1392.6 195.4 L1392.0 188.9 L1391.5 182.3 L1390.9 175.7 L1390.4 169.1 L1390.0 162.5 L1389.5 156.0 L1389.1 149.4 L1388.7 142.8 L1388.4 136.2 L1388.1 129.6 L1387.8 123.1 L1387.5 116.5 L1387.3 109.9 Z" fill="#aac8ea"/>
<path d="M1530.6 228.4 L1530.3 237.0 L1530.0 245.7 L1529.7 254.3 L1529.3 262.9 L1528.9 271.6 L1528.5 280.2 L1528.0 288.9 L1527.5 297.5 L1527.0 306.1 L1526.4 314.8 L1525.8 323.4 L1525.2 332.0 L1524.5 340.7 L1523.8 349.3 L1523.2 358.0 L1522.4 366.6 L1521.7 375.2 L1521.0 383.9 L1520.3 392.5 L1519.6 401.1 L1518.9 409.8 L1518.1 418.4 L1517.4 427.1 L1516.8 435.7 L1516.1 444.3 L1515.4 453.0 L1514.8 461.6 L1514.2 470.2 L1513.6 478.9 L1513.0 487.5 L1512.4 496.1 L1511.8 504.8 L1511.3 513.4 L1510.8 522.1 L1510.3 530.7 L1509.8 539.3 L1509.3 548.0 L1508.8 556.6 L1508.4 565.2 L1508.0 573.9 L1507.7 582.5 L1507.3 591.2 L1507.0 599.8 L1506.7 608.4 L1506.5 617.1 L1506.4 625.7 L1506.2 634.3 L1506.2 643.0 L1506.1 651.6 L1506.2 660.2 L1506.3 668.9 L1506.4 677.5 L1506.6 686.2 L1506.9 694.8 L1507.2 703.4 L1507.6 712.1 L1508.1 720.7 L1508.5 729.3 L1509.1 738.0 L1509.6 746.6 L1510.2 755.3 L1510.9 763.9 L1511.6 772.5 L1512.2 781.2 L1513.0 789.8 L1513.7 798.4 L1514.4 807.1 L1515.2 815.7 L1515.9 824.4 L1516.6 833.0 L1517.3 841.6 L1518.0 850.3 L1518.7 858.9 L1519.3 867.5 L1519.9 876.2 L1520.5 884.8 L1521.0 893.4 L1521.5 902.1 L1521.9 910.7 L1522.3 919.4 L1522.7 928.0 L1523.0 936.6 L1523.3 945.3 L1523.6 953.9 L1523.8 962.5 L1524.1 971.2 L1524.3 979.8 L1524.4 988.5 L1524.6 997.1 L1524.8 1005.7 L1525.0 1014.4 L1525.1 1023.0 L1525.3 1031.6 L1525.5 1040.3 L1525.7 1048.9 L1525.9 1057.5 L1526.1 1066.2 L1526.3 1074.8 L1526.6 1083.5 L1526.9 1092.1 L1527.1 1100.7 L1527.4 1109.4 L1527.7 1118.0 L1528.0 1126.6 L1528.3 1135.3 L1528.5 1143.9 L1528.8 1152.6 L1529.1 1161.2 L1529.4 1169.8 L1529.6 1178.5 L1529.9 1187.1 L1530.1 1195.7 L1530.4 1204.4 L1530.6 1213.0 L1530.8 1221.7 L1530.9 1230.3 L1531.1 1238.9 L1531.2 1247.6 L1531.2 1256.2 L1532.4 1256.2 L1532.4 1247.6 L1532.5 1238.9 L1532.7 1230.3 L1532.8 1221.7 L1533.0 1213.0 L1533.2 1204.4 L1533.5 1195.7 L1533.7 1187.1 L1534.0 1178.5 L1534.2 1169.8 L1534.5 1161.2 L1534.8 1152.6 L1535.1 1143.9 L1535.3 1135.3 L1535.6 1126.6 L1535.9 1118.0 L1536.2 1109.4 L1536.5 1100.7 L1536.7 1092.1 L1537.0 1083.5 L1537.3 1074.8 L1537.5 1066.2 L1537.7 1057.5 L1537.9 1048.9 L1538.1 1040.3 L1538.3 1031.6 L1538.5 1023.0 L1538.6 1014.4 L1538.8 1005.7 L1539.0 997.1 L1539.2 988.5 L1539.3 979.8 L1539.5 971.2 L1539.8 962.5 L1540.0 953.9 L1540.3 945.3 L1540.6 936.6 L1540.9 928.0 L1541.3 919.4 L1541.7 910.7 L1542.1 902.1 L1542.6 893.4 L1543.1 884.8 L1543.7 876.2 L1544.3 867.5 L1544.9 858.9 L1545.6 850.3 L1546.3 841.6 L1547.0 833.0 L1547.7 824.4 L1548.4 815.7 L1549.2 807.1 L1549.9 798.4 L1550.6 789.8 L1551.4 781.2 L1552.0 772.5 L1552.7 763.9 L1553.4 755.3 L1554.0 746.6 L1554.5 738.0 L1555.1 729.3 L1555.5 720.7 L1556.0 712.1 L1556.4 703.4 L1556.7 694.8 L1557.0 686.2 L1557.2 677.5 L1557.3 668.9 L1557.4 660.2 L1557.5 651.6 L1557.4 643.0 L1557.4 634.3 L1557.2 625.7 L1557.1 617.1 L1556.9 608.4 L1556.6 599.8 L1556.3 591.2 L1555.9 582.5 L1555.6 573.9 L1555.2 565.2 L1554.8 556.6 L1554.3 548.0 L1553.8 539.3 L1553.3 530.7 L1552.8 522.1 L1552.3 513.4 L1551.8 504.8 L1551.2 496.1 L1550.6 487.5 L1550.0 478.9 L1549.4 470.2 L1548.8 461.6 L1548.2 453.0 L1547.5 444.3 L1546.8 435.7 L1546.2 427.1 L1545.5 418.4 L1544.7 409.8 L1544.0 401.1 L1543.3 392.5 L1542.6 383.9 L1541.9 375.2 L1541.2 366.6 L1540.4 358.0 L1539.8 349.3 L1539.1 340.7 L1538.4 332.0 L1537.8 323.4 L1537.2 314.8 L1536.6 306.1 L1536.1 297.5 L1535.6 288.9 L1535.1 280.2 L1534.7 271.6 L1534.3 262.9 L1533.9 254.3 L1533.6 245.7 L1533.3 237.0 L1533.0 228.4 Z" fill="#f3a9a6"/>
<path d="M1673.3 454.0 L1672.7 457.2 L1672.1 460.3 L1671.4 463.5 L1670.6 466.6 L1669.7 469.8 L1668.7 473.0 L1667.6 476.1 L1666.5 479.3 L1665.2 482.4 L1663.9 485.6 L1662.4 488.8 L1660.9 491.9 L1659.3 495.1 L1657.6 498.2 L1655.8 501.4 L1653.9 504.6 L1652.0 507.7 L1650.0 510.9 L1648.0 514.0 L1645.9 517.2 L1643.8 520.4 L1641.7 523.5 L1639.6 526.7 L1637.4 529.8 L1635.2 533.0 L1633.1 536.2 L1631.0 539.3 L1628.9 542.5 L1626.8 545.6 L1624.8 548.8 L1622.8 551.9 L1620.9 555.1 L1619.0 558.3 L1617.2 561.4 L1615.4 564.6 L1613.8 567.7 L1612.2 570.9 L1610.7 574.1 L1609.3 577.2 L1608.1 580.4 L1606.9 583.5 L1605.9 586.7 L1605.0 589.9 L1604.3 593.0 L1603.7 596.2 L1603.3 599.3 L1603.1 602.5 L1603.1 605.7 L1603.3 608.8 L1603.6 612.0 L1604.1 615.1 L1604.9 618.3 L1605.8 621.5 L1607.0 624.6 L1608.3 627.8 L1609.8 630.9 L1611.4 634.1 L1613.2 637.3 L1615.2 640.4 L1617.2 643.6 L1619.3 646.7 L1621.6 649.9 L1623.8 653.1 L1626.2 656.2 L1628.5 659.4 L1630.8 662.5 L1633.1 665.7 L1635.3 668.9 L1637.5 672.0 L1639.6 675.2 L1641.6 678.3 L1643.5 681.5 L1645.3 684.7 L1646.9 687.8 L1648.5 691.0 L1649.9 694.1 L1651.1 697.3 L1652.3 700.5 L1653.3 703.6 L1654.2 706.8 L1655.0 709.9 L1655.6 713.1 L1656.2 716.3 L1656.8 719.4 L1657.2 722.6 L1657.6 725.7 L1658.0 728.9 L1658.4 732.1 L1658.7 735.2 L1659.0 738.4 L1659.4 741.5 L1659.7 744.7 L1660.1 747.8 L1660.5 751.0 L1661.0 754.2 L1661.4 757.3 L1662.0 760.5 L1662.5 763.6 L1663.1 766.8 L1663.7 770.0 L1664.3 773.1 L1665.0 776.3 L1665.6 779.4 L1666.3 782.6 L1667.0 785.8 L1667.7 788.9 L1668.4 792.1 L1669.1 795.2 L1669.7 798.4 L1670.3 801.6 L1670.9 804.7 L1671.5 807.9 L1672.1 811.0 L1672.6 814.2 L1673.0 817.4 L1673.5 820.5 L1673.9 823.7 L1674.3 826.8 L1674.6 830.0 L1678.2 830.0 L1678.5 826.8 L1678.9 823.7 L1679.3 820.5 L1679.8 817.4 L1680.2 814.2 L1680.7 811.0 L1681.3 807.9 L1681.9 804.7 L1682.5 801.6 L1683.1 798.4 L1683.7 795.2 L1684.4 792.1 L1685.1 788.9 L1685.8 785.8 L1686.5 782.6 L1687.2 779.4 L1687.8 776.3 L1688.5 773.1 L1689.1 770.0 L1689.7 766.8 L1690.3 763.6 L1690.8 760.5 L1691.4 757.3 L1691.8 754.2 L1692.3 751.0 L1692.7 747.8 L1693.1 744.7 L1693.4 741.5 L1693.8 738.4 L1694.1 735.2 L1694.4 732.1 L1694.8 728.9 L1695.2 725.7 L1695.6 722.6 L1696.0 719.4 L1696.6 716.3 L1697.2 713.1 L1697.8 709.9 L1698.6 706.8 L1699.5 703.6 L1700.5 700.5 L1701.7 697.3 L1702.9 694.1 L1704.3 691.0 L1705.9 687.8 L1707.5 684.7 L1709.3 681.5 L1711.2 678.3 L1713.2 675.2 L1715.3 672.0 L1717.5 668.9 L1719.7 665.7 L1722.0 662.5 L1724.3 659.4 L1726.6 656.2 L1729.0 653.1 L1731.2 649.9 L1733.5 646.7 L1735.6 643.6 L1737.6 640.4 L1739.6 637.3 L1741.4 634.1 L1743.0 630.9 L1744.5 627.8 L1745.8 624.6 L1747.0 621.5 L1747.9 618.3 L1748.7 615.1 L1749.2 612.0 L1749.5 608.8 L1749.7 605.7 L1749.7 602.5 L1749.5 599.3 L1749.1 596.2 L1748.5 593.0 L1747.8 589.9 L1746.9 586.7 L1745.9 583.5 L1744.7 580.4 L1743.5 577.2 L1742.1 574.1 L1740.6 570.9 L1739.0 567.7 L1737.4 564.6 L1735.6 561.4 L1733.8 558.3 L1731.9 555.1 L1730.0 551.9 L1728.0 548.8 L1726.0 545.6 L1723.9 542.5 L1721.8 539.3 L1719.7 536.2 L1717.6 533.0 L1715.4 529.8 L1713.2 526.7 L1711.1 523.5 L1709.0 520.4 L1706.9 517.2 L1704.8 514.0 L1702.8 510.9 L1700.8 507.7 L1698.9 504.6 L1697.0 501.4 L1695.2 498.2 L1693.5 495.1 L1691.9 491.9 L1690.4 488.8 L1688.9 485.6 L1687.6 482.4 L1686.3 479.3 L1685.2 476.1 L1684.1 473.0 L1683.1 469.8 L1682.2 466.6 L1681.4 463.5 L1680.7 460.3 L1680.1 457.2 L1679.5 454.0 Z" fill="#97d9a6"/>
</g>
<rect x="296.1" y="538.6" width="6" height="160.4" fill="#727272"/>
<rect x="290.9" y="574.5" width="16.4" height="83.0" rx="5" fill="#727272"/>
<circle cx="299.1" cy="608.7" r="3.2" fill="#fff"/>
<rect x="440.8" y="634.4" width="6" height="606.6" fill="#727272"/>
<rect x="435.6" y="706.0" width="16.4" height="282.0" rx="5" fill="#727272"/>
<circle cx="443.8" cy="876.0" r="3.2" fill="#fff"/>
<rect x="586.0" y="555.4" width="6" height="111.2" fill="#727272"/>
<rect x="580.8" y="570.8" width="16.4" height="85.6" rx="5" fill="#727272"/>
<circle cx="589.0" cy="615.0" r="3.2" fill="#fff"/>
<rect x="839.8" y="725.5" width="6" height="478.3" fill="#727272"/>
<rect x="834.6" y="772.0" width="16.4" height="336.5" rx="5" fill="#727272"/>
<circle cx="842.8" cy="1032.3" r="3.2" fill="#fff"/>
<rect x="985.3" y="931.8" width="6" height="134.6" fill="#727272"/>
<rect x="980.1" y="944.0" width="16.4" height="107.6" rx="5" fill="#727272"/>
<circle cx="988.3" cy="970.2" r="3.2" fill="#fff"/>
<rect x="1129.7" y="649.5" width="6" height="306.5" fill="#727272"/>
<rect x="1124.5" y="735.0" width="16.4" height="112.0" rx="5" fill="#727272"/>
<circle cx="1132.7" cy="800.7" r="3.2" fill="#fff"/>
<rect x="1383.5" y="292.3" width="6" height="416.7" fill="#727272"/>
<rect x="1378.3" y="436.2" width="16.4" height="138.1" rx="5" fill="#727272"/>
<circle cx="1386.5" cy="501.6" r="3.2" fill="#fff"/>
<rect x="1528.3" y="460.0" width="6" height="564.7" fill="#727272"/>
<rect x="1523.1" y="534.7" width="16.4" height="219.0" rx="5" fill="#727272"/>
<circle cx="1531.3" cy="683.3" r="3.2" fill="#fff"/>
<rect x="1673.4" y="535.4" width="6" height="119.7" fill="#727272"/>
<rect x="1668.2" y="577.3" width="16.4" height="71.1" rx="5" fill="#727272"/>
<circle cx="1676.4" cy="607.7" r="3.2" fill="#fff"/>
<rect x="190.5" y="30.5" width="324" height="221" rx="9" fill="#fff" fill-opacity="0.85" stroke="#d6d6d6" stroke-width="3.2"/>
<rect x="210.5" y="51.5" width="93" height="33.5" fill="#aac8ea" stroke="#727272" stroke-width="3"/>
<text class="lg" x="341.5" y="85.2">FASTD</text>
<rect x="210.5" y="121.2" width="93" height="33.5" fill="#f3a9a6" stroke="#727272" stroke-width="3"/>
<text class="lg" x="341.5" y="154.9">PUREL</text>
<rect x="210.5" y="190.9" width="93" height="33.5" fill="#97d9a6" stroke="#727272" stroke-width="3"/>
<text class="lg" x="341.5" y="224.6">FAVOR</text>
<text class="yl" text-anchor="middle" transform="translate(77 711.5) rotate(-90)">Margalef index of diversity</text>
<g class="xl" text-anchor="middle">
<text x="449.3" y="1667.5" textLength="403" lengthAdjust="spacingAndGlyphs">activated sludge</text>
<text x="450.2" y="1730.8" textLength="172" lengthAdjust="spacingAndGlyphs">(S1-S8)</text>
<text x="994.3" y="1667.6" textLength="174.5" lengthAdjust="spacingAndGlyphs">biofilm</text>
<text x="994.5" y="1728" textLength="233" lengthAdjust="spacingAndGlyphs">(S11-S18)</text>
<text x="1532.7" y="1669.9" textLength="228" lengthAdjust="spacingAndGlyphs">digestate</text>
<text x="1532.3" y="1730.5" textLength="233" lengthAdjust="spacingAndGlyphs">(S21-S28)</text>
</g>
</svg></body></html>
